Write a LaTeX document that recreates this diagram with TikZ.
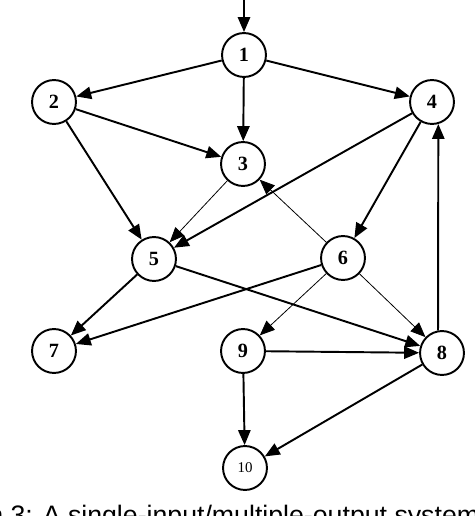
\documentclass[tikz,border=0pt]{standalone}
\usepackage{fontspec}
\setmainfont{Liberation Serif}
\newfontfamily\capfont{Liberation Sans}
\usetikzlibrary{arrows.meta}
\begin{document}
\begin{tikzpicture}[x=0.02cm,y=-0.02cm,
  vertex/.style={circle,draw,line width=1.1pt,minimum size=25pt,inner sep=0pt,font=\fontsize{11.5}{13}\selectfont\bfseries},
  flow/.style={line width=1.1pt,-{Triangle[length=8.5pt,width=7pt]}},
  weak/.style={flow,line width=0.45pt}]
\useasboundingbox (0,0) rectangle (474,516);
% nodes
\node[vertex] (n1) at (244,55) {1};
\node[vertex] (n2) at (54,102) {2};
\node[vertex] (n3) at (243,164) {3};
\node[vertex] (n4) at (432,102) {4};
\node[vertex] (n5) at (154,259) {5};
\node[vertex] (n6) at (343,258) {6};
\node[vertex] (n7) at (54,351) {7};
\node[vertex] (n8) at (442,353) {8};
\node[vertex] (n9) at (243,351) {9};
\node[vertex,font=\fontsize{8.5}{10}\selectfont] (n10) at (245,468) {10};
\coordinate (in) at (244,0);
% edges
\draw[flow] (in)--(n1);
\draw[flow] (n1)--(n2);
\draw[flow] (n1)--(n3);
\draw[flow] (n1)--(n4);
\draw[flow] (n2)--(n3);
\draw[flow] (n2)--(n5);
\draw[flow] (n4)--(n5);
\draw[flow] (n4)--(n6);
\draw[weak] (n3)--(n5);
\draw[weak] (n6)--(n3);
\draw[flow] (n5)--(n7);
\draw[flow] (n6)--(n7);
\draw[flow] (n5)--(n8);
\draw[weak] (n6)--(n9);
\draw[weak] (n6)--(n8);
\draw[flow] (n9)--(n8);
\draw[flow] (n9)--(n10);
\draw[flow] (n8)--(n10);
\draw[flow] (n8.100)--(n4.-74);
% caption, cut by the page edges
\node[anchor=base west,inner sep=0pt,font=\capfont\fontsize{15.2}{18}\selectfont] (cap) at (-12,524) {n 3: A single-input/multiple-output system};
\end{tikzpicture}
\end{document}
